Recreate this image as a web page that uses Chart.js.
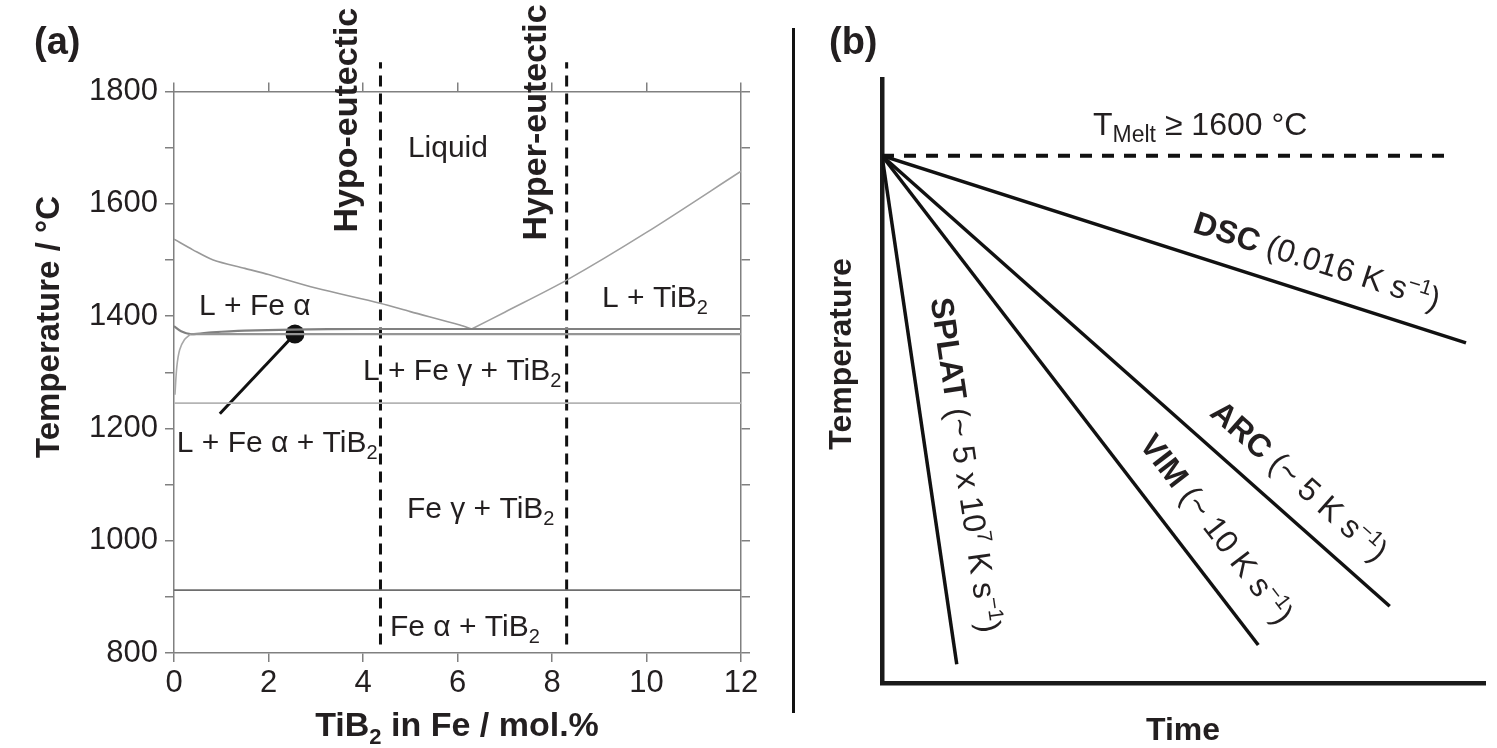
<!DOCTYPE html>
<html><head><meta charset="utf-8">
<script src="https://cdn.jsdelivr.net/npm/chart.js@4.4.1/dist/chart.umd.min.js"></script>
<style>
html,body{margin:0;padding:0;background:#fff;}
#wrap{position:relative;width:1497px;height:748px;overflow:hidden;background:#fff}
canvas{position:absolute;left:0;top:0}
#sep{position:absolute;left:792px;top:28px;width:3px;height:685px;background:#111}
</style></head><body>
<div id="wrap"><canvas id="ca" width="1497" height="748"></canvas><canvas id="cb" width="1497" height="748"></canvas><div id="sep"></div></div>
<script>
// ---------- Panel (a) data: TiB2 in Fe (mol.%) vs temperature (°C) ----------
const compositionTicks = [0, 2, 4, 6, 8, 10, 12];
const temperatureTickLabels = [800, 1000, 1200, 1400, 1600, 1800];

const liquidusFeX = [0, 0.4, 0.83, 1.5, 2, 3, 4.36, 5, 6.05, 6.3];
const liquidusFeT = [1537, 1518, 1500, 1485, 1474, 1450, 1423, 1408, 1384, 1377];
const liquidusTiB2X = [6.3, 7, 8.31, 10, 12];
const liquidusTiB2T = [1377, 1407, 1464, 1549, 1658];
const solidusUpperX = [0, 0.15, 0.35, 0.8, 1.5, 2.5, 4, 6.3, 12];
const solidusUpperT = [1382, 1373, 1368, 1371, 1374, 1376, 1377, 1377, 1377];
const eutecticLowerX = [0.35, 12];
const eutecticLowerT = [1368, 1368];
const gammaBoundaryX = [0.02, 0.06, 0.12, 0.22, 0.35];
const gammaBoundaryT = [1260, 1310, 1340, 1358, 1368];
const solidusGammaX = [0, 12];
const solidusGammaT = [1245, 1245];
const alphaGammaX = [0, 12];
const alphaGammaT = [912, 912];
const hypoX = [4.37, 4.37];
const hyperX = [8.31, 8.31];
const guideT = [815, 1852];
const markerX = [2.56];
const markerT = [1368];
const leaderX = [0.97, 2.56];
const leaderT = [1226, 1368];

// region labels: text, left x (mol.%), baseline T (°C)
const regionNames = ['Liquid', 'L + Fe α', 'L + TiB|2', 'L + Fe γ + TiB|2', 'L + Fe α + TiB|2', 'Fe γ + TiB|2', 'Fe α + TiB|2'];
const regionX = [4.95, 0.53, 9.06, 4.0, 0.06, 4.93, 4.57];
const regionT = [1683, 1402, 1416, 1286, 1158, 1041, 830];
const guideNames = ['Hypo-eutectic', 'Hyper-eutectic'];
const guideLabelX = [3.87, 7.87];
const guideLabelT = [1749, 1745];

// ---------- Panel (b) data: schematic cooling (arbitrary units) ----------
const meltTime = [0, 93.9];
const meltTemp = [87.3, 87.3];
const dscTime = [0, 96.85];
const dscTemp = [87.3, 56.3];
const arcTime = [0, 84.2];
const arcTemp = [87.3, 12.7];
const vimTime = [0, 62.4];
const vimTemp = [87.3, 6.3];
const splatTime = [0, 12.4];
const splatTemp = [87.3, 3.1];

const rateMethods = ['DSC', 'ARC', 'VIM', 'SPLAT'];
const rateValues = ['(0.016 K s', '(~ 5 K s', '(~ 10 K s', '(~ 5 x 10'];
const rateLabelAlong = [0.728, 0.778, 0.81, 0.619];
const rateLabelOffset = [22, 23, 27, 27];

const FAM = '"Liberation Sans", Arial, Helvetica, sans-serif';
const INK = '#231f20';

function pts(xs, ys) { return xs.map((x, i) => ({x: x, y: ys[i]})); }
function fontStr(p) { return (p.b ? 'bold ' : '') + p.s + 'px ' + FAM; }
function P(t, s, b, dy) { return {t: t, s: s, b: !!b, dy: dy || 0}; }
function richWidth(ctx, parts) {
  let w = 0;
  for (const p of parts) { ctx.font = fontStr(p); w += ctx.measureText(p.t).width; }
  return w;
}
function drawRich(ctx, parts, x, y, align, angle) {
  ctx.save();
  ctx.translate(x, y);
  ctx.rotate(angle || 0);
  ctx.fillStyle = INK;
  ctx.textBaseline = 'alphabetic';
  ctx.textAlign = 'left';
  const w = richWidth(ctx, parts);
  let cx = align === 'center' ? -w / 2 : (align === 'right' ? -w : 0);
  for (const p of parts) {
    ctx.font = fontStr(p);
    ctx.fillText(p.t, cx, p.dy);
    cx += ctx.measureText(p.t).width;
  }
  ctx.restore();
}
// "TiB|2" -> subscript after '|'
function subParts(str, size, bold) {
  const out = [];
  const segs = str.split('|');
  out.push(P(segs[0], size, bold));
  for (let i = 1; i < segs.length; i++) {
    out.push(P(segs[i].charAt(0), Math.round(size * 0.66), bold, Math.round(size * 0.24)));
    if (segs[i].length > 1) out.push(P(segs[i].slice(1), size, bold));
  }
  return out;
}

const gridTick = {drawOnChartArea: false, drawTicks: true, tickLength: 9, color: '#808080', lineWidth: 1.5};
const frameBorder = {color: '#808080', width: 1.5};

const labelsA = {
  id: 'labelsA',
  afterDatasetsDraw(chart) {
    const ctx = chart.ctx, xs = chart.scales.x, ys = chart.scales.y;
    for (let i = 0; i < regionNames.length; i++) {
      drawRich(ctx, subParts(regionNames[i], 30, false), xs.getPixelForValue(regionX[i]), ys.getPixelForValue(regionT[i]), 'left', 0);
    }
    for (let i = 0; i < guideNames.length; i++) {
      drawRich(ctx, [P(guideNames[i], 34, true)], xs.getPixelForValue(guideLabelX[i]), ys.getPixelForValue(guideLabelT[i]), 'center', -Math.PI / 2);
    }
    drawRich(ctx, [P('Temperature / °C', 33, true)], 59, 327, 'center', -Math.PI / 2);
    drawRich(ctx, subParts('TiB|2 in Fe / mol.%', 34, true), 457, 736, 'center', 0);
    drawRich(ctx, [P('(a)', 38, true)], 34, 54, 'left', 0);
  }
};

const lineDS = (data, color, width, extra) => Object.assign({
  data: data, showLine: true, borderColor: color, borderWidth: width, pointRadius: 0,
  fill: false, tension: 0
}, extra || {});

new Chart(document.getElementById('ca'), {
  type: 'scatter',
  data: {
    datasets: [
      lineDS(pts(alphaGammaX, alphaGammaT), '#6e6e6e', 1.6),
      lineDS(pts(solidusGammaX, solidusGammaT), '#b4b4b4', 1.6),
      lineDS(pts(gammaBoundaryX, gammaBoundaryT), '#a8a8a8', 1.6, {tension: 0.3}),
      lineDS(pts(eutecticLowerX, eutecticLowerT), '#959595', 2.2),
      lineDS(pts(solidusUpperX, solidusUpperT), '#808080', 2.2, {tension: 0.3}),
      lineDS(pts(liquidusFeX, liquidusFeT), '#999999', 1.6, {tension: 0.3}),
      lineDS(pts(liquidusTiB2X, liquidusTiB2T), '#a0a0a0', 1.6, {tension: 0.3}),
      lineDS(pts(hypoX, guideT), '#111111', 3, {borderDash: [11, 7], clip: false}),
      lineDS(pts(hyperX, guideT), '#111111', 3, {borderDash: [11, 7], clip: false}),
      lineDS(pts(leaderX, leaderT), '#111111', 3),
      {data: pts(markerX, markerT), showLine: false, pointRadius: 9.5, pointBackgroundColor: '#111111', pointBorderWidth: 0}
    ]
  },
  options: {
    responsive: false, animation: false,
    layout: {padding: {left: 0, top: 82.5, right: 1497 - 741 - 9, bottom: 0}},
    plugins: {legend: {display: false}, tooltip: {enabled: false}},
    scales: {
      x: {type: 'linear', position: 'bottom', min: 0, max: 12,
          afterBuildTicks: s => { s.ticks = compositionTicks.map(v => ({value: v})); },
          ticks: {font: {size: 31, family: FAM}, color: INK, padding: 3, autoSkip: false, maxRotation: 0},
          grid: gridTick, border: frameBorder, afterFit: s => { s.height = 95; }},
      x2: {type: 'linear', position: 'top', min: 0, max: 12,
          afterBuildTicks: s => { s.ticks = compositionTicks.map(v => ({value: v})); },
          ticks: {display: false}, grid: gridTick, border: frameBorder, afterFit: s => { s.height = 9; }},
      y: {type: 'linear', position: 'left', min: 800, max: 1800,
          ticks: {stepSize: 100, autoSkip: false, font: {size: 31, family: FAM}, color: INK, padding: 7,
                  callback: v => temperatureTickLabels.includes(v) ? String(v) : ''},
          grid: gridTick, border: frameBorder, afterFit: s => { s.width = 174; }},
      y2: {type: 'linear', position: 'right', min: 800, max: 1800,
          ticks: {stepSize: 100, display: false}, grid: gridTick, border: frameBorder, afterFit: s => { s.width = 9; }}
    }
  },
  plugins: [labelsA]
});

// ---------- Panel (b) ----------
const labelsB = {
  id: 'labelsB',
  afterDatasetsDraw(chart) {
    const ctx = chart.ctx, xs = chart.scales.x, ys = chart.scales.y;
    const lines = [[dscTime, dscTemp], [arcTime, arcTemp], [vimTime, vimTemp], [splatTime, splatTemp]];
    for (let i = 0; i < lines.length; i++) {
      const x0 = xs.getPixelForValue(lines[i][0][0]), y0 = ys.getPixelForValue(lines[i][1][0]);
      const x1 = xs.getPixelForValue(lines[i][0][1]), y1 = ys.getPixelForValue(lines[i][1][1]);
      const ang = Math.atan2(y1 - y0, x1 - x0);
      const ux = Math.cos(ang), uy = Math.sin(ang);
      const L = Math.hypot(x1 - x0, y1 - y0) * rateLabelAlong[i];
      const upx = uy, upy = -ux;
      const d = rateLabelOffset[i];
      const cx = x0 + ux * L + upx * d, cy = y0 + uy * L + upy * d;
      const parts = [P(rateMethods[i] + ' ', 32, true), P(rateValues[i], 32, false)];
      if (i === 3) { parts.push(P('7', 21, false, -12)); parts.push(P(' K s', 32, false)); }
      parts.push(P('−1', 21, false, -12));
      parts.push(P(')', 32, false));
      drawRich(ctx, parts, cx, cy, 'center', ang);
    }
    const mx = xs.getPixelForValue(meltTime[0]), my = ys.getPixelForValue(meltTemp[0]);
    drawRich(ctx, [P('T', 32, false), P('Melt', 23, false, 7), P(' ≥ 1600 °C', 32, false)], mx + 211, my - 21, 'left', 0);
    drawRich(ctx, [P('Temperature', 32, true)], 851, 354, 'center', -Math.PI / 2);
    drawRich(ctx, [P('Time', 32, true)], 1183, 740, 'center', 0);
    drawRich(ctx, [P('(b)', 38, true)], 829, 54, 'left', 0);
  }
};

new Chart(document.getElementById('cb'), {
  type: 'scatter',
  data: {
    datasets: [
      lineDS(pts(meltTime, meltTemp), '#111111', 4, {borderDash: [12, 10]}),
      lineDS(pts(dscTime, dscTemp), '#111111', 3.5),
      lineDS(pts(arcTime, arcTemp), '#111111', 3.5),
      lineDS(pts(vimTime, vimTemp), '#111111', 3.5),
      lineDS(pts(splatTime, splatTemp), '#111111', 3.5)
    ]
  },
  options: {
    responsive: false, animation: false,
    layout: {padding: {left: 882, top: 79, right: 12, bottom: 65}},
    plugins: {legend: {display: false}, tooltip: {enabled: false}},
    scales: {
      x: {type: 'linear', min: 0, max: 100, ticks: {display: false}, grid: {display: false, drawTicks: false},
          border: {color: '#1a1a1a', width: 4.5}, afterFit: s => { s.height = 0; }},
      y: {type: 'linear', min: 0, max: 100, ticks: {display: false}, grid: {display: false, drawTicks: false},
          border: {color: '#1a1a1a', width: 4.5}, afterFit: s => { s.width = 0; }}
    }
  },
  plugins: [labelsB]
});
</script>
</body></html>
